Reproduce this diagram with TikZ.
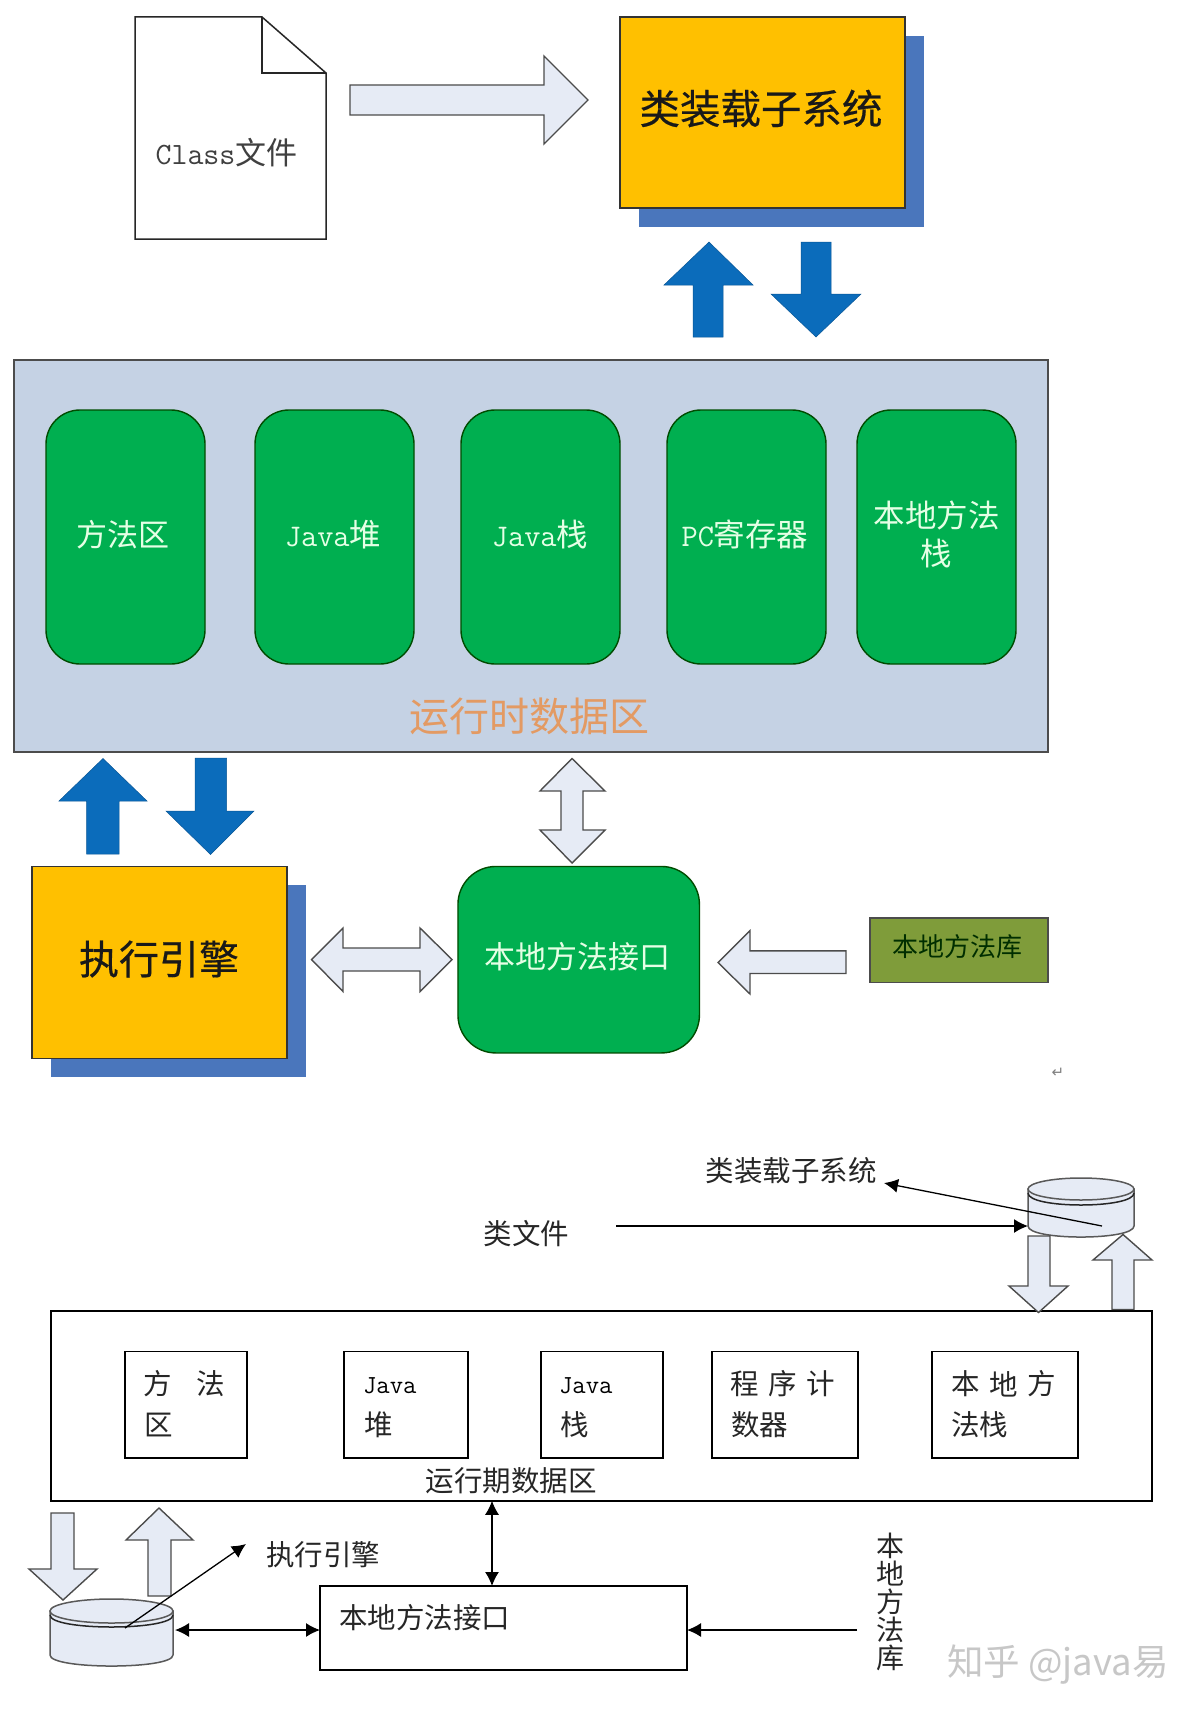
\documentclass[tikz,border=0pt]{standalone}
\usepackage{fontspec}
\setmainfont{Noto Sans CJK SC}
\newfontfamily\lmtt{Latin Modern Mono}
\newfontfamily\cjkb[FakeBold=0.5]{Noto Sans CJK SC}
\definecolor{orangeF}{HTML}{FFC000}
\definecolor{shadowB}{HTML}{4A76BC}
\definecolor{blockB}{HTML}{0B6CBB}
\definecolor{paleB}{HTML}{E6EBF5}
\definecolor{panelB}{HTML}{C5D2E4}
\definecolor{greenF}{HTML}{00AF50}
\definecolor{oliveF}{HTML}{7F9C3A}
\definecolor{dbF}{HTML}{E6EBF5}
\definecolor{rtText}{HTML}{E39A63}
\newcommand{\fs}[1]{\fontsize{#1}{#1}\selectfont}
\usetikzlibrary{arrows.meta}
\tikzset{
  every node/.style={inner sep=0pt,outer sep=0pt},
  pale/.style={draw=black!70,line width=1.4pt,fill=paleB,line join=miter},
  solidb/.style={fill=blockB,draw=blockB!80!black,line width=.5pt},
  thinline/.style={draw=black,line width=1.5pt},
  stealthy/.style={-{Latex[length=14pt,width=14pt]}},
  both/.style={{Latex[length=14pt,width=14pt]}-{Latex[length=14pt,width=14pt]}},
  green/.style={draw=black!70!green,line width=1.4pt,fill=greenF,rounded corners=34pt},
  orange/.style={draw=black!80,line width=1.8pt,fill=orangeF},
  shadow/.style={fill=shadowB},
  gtext/.style={text=green!10!white,font=\fs{31},align=center},
  box/.style={draw=black,line width=1.6pt,fill=white},
  lab/.style={font=\fs{28.5},text=black!85},
  mono/.style={font=\fs{26}\lmtt\bfseries},
  dbline/.style={draw=black!65,line width=1.5pt}
}
\begin{document}
\begin{tikzpicture}[x=1pt,y=-1pt]
\useasboundingbox[fill=white] (0,0) rectangle (1200,1718);
% document
\draw[draw=black!85,line width=1.5pt,fill=white] (135,17) -- (262,17) -- (326,73) -- (326,239) -- (135,239) -- cycle;
\draw[draw=black!85,line width=1.5pt] (262,17) -- (262,73) -- (326,73);
\node[text=black!75] (cls) at (226.5,153) {\fs{31}\lmtt Class\fs{31}\rmfamily 文件};
\draw[pale] (350,85) -- (544,85) -- (544,56) -- (588,100) -- (544,144) -- (544,115) -- (350,115) -- cycle;
% loader
\fill[shadow] (639,36) rectangle (924,227);
\node[orange,minimum width=285pt,minimum height=191pt] (loader) at (762.5,112.5) {};
\node[font=\fs{40.5}\cjkb,text=black!90] at (761,108.5) {类装载子系统};
\draw[solidb] (709,242) -- (753,285) -- (723,285) -- (723,337) -- (693,337) -- (693,285) -- (664,285) -- cycle;
\draw[solidb] (801,242) -- (831,242) -- (831,294) -- (861,294) -- (816,337) -- (771,294) -- (801,294) -- cycle;
% runtime panel
\node[draw=black!70,line width=1.6pt,fill=panelB,minimum width=1034pt,minimum height=392.5pt] (panel) at (531,556) {};
\node[green,minimum width=159pt,minimum height=254pt] (g1) at (125.5,537) {};
\node[green,minimum width=159pt,minimum height=254pt] (g2) at (334.5,537) {};
\node[green,minimum width=159pt,minimum height=254pt] (g3) at (540.5,537) {};
\node[green,minimum width=159pt,minimum height=254pt] (g4) at (746.5,537) {};
\node[green,minimum width=159pt,minimum height=254pt] (g5) at (936.5,537) {};
\node[gtext] at (123,534.5) {方法区};
\node[gtext] at (333,534.5) {\fs{31.5}\lmtt Java\rmfamily 堆};
\node[gtext] at (540,534.5) {\fs{31.5}\lmtt Java\rmfamily 栈};
\node[gtext] at (745,534.5) {\fs{31.5}\lmtt PC\rmfamily 寄存器};
\node[gtext,font=\fs{31.5}] at (936.5,515) {本地方法};
\node[gtext,font=\fs{31.5}] at (936.5,554) {栈};
\node[font=\fs{40},text=rtText] at (529,716) {运行时数据区};
% lower arrows
\draw[solidb] (103,758.5) -- (147,801) -- (119,801) -- (119,854) -- (86.5,854) -- (86.5,801) -- (59,801) -- cycle;
\draw[solidb] (195,758) -- (226.5,758) -- (226.5,811) -- (254,811) -- (210.5,854.5) -- (166,811) -- (195,811) -- cycle;
\draw[pale] (572,758.5) -- (605,791) -- (583,791) -- (583,830) -- (605,830) -- (572,863) -- (540,830) -- (561,830) -- (561,791) -- (540,791) -- cycle;
% exec
\fill[shadow] (51,885) rectangle (306,1077);
\node[orange,minimum width=255pt,minimum height=192pt] (exec) at (159.5,962.5) {};
\node[font=\fs{40}\cjkb,text=black!90] at (159,959) {执行引擎};
\node[green,rounded corners=38pt,minimum width=241.5pt,minimum height=186.5pt] (jni) at (578.7,959.7) {};
\node[gtext,font=\fs{31}] at (577,957) {本地方法接口};
\draw[pale] (311.5,959.5) -- (343,928) -- (343,948) -- (420,948) -- (420,928) -- (452,959.5) -- (420,991.5) -- (420,971) -- (343,971) -- (343,991.5) -- cycle;
\draw[pale] (718,962.5) -- (750,930.7) -- (750,950.8) -- (846,950.8) -- (846,973.5) -- (750,973.5) -- (750,994) -- cycle;
\node[draw=black!70,line width=1.6pt,fill=oliveF,minimum width=178pt,minimum height=64.5pt] (lib) at (959,950.2) {};
\node[font=\fs{26},text=black!70!green!60!black] at (957,947) {本地方法库};
\node[font=\fs{15}\fontspec{DejaVu Sans},text=black!50] at (1058,1073) {↵};
% lower diagram
\node[box,minimum width=1101pt,minimum height=189.5pt] (rt) at (601.5,1406) {};
\node[box,minimum width=122pt,minimum height=106.5pt] (b1) at (186,1404.7) {};
\node[box,minimum width=123.5pt,minimum height=106.5pt] (b2) at (406,1404.7) {};
\node[box,minimum width=122pt,minimum height=106.5pt] (b3) at (602,1404.7) {};
\node[box,minimum width=146pt,minimum height=106.5pt] (b4) at (785,1404.7) {};
\node[box,minimum width=146pt,minimum height=106.5pt] (b5) at (1005,1404.7) {};
\node[lab,anchor=west] at (143,1384) {方};
\node[lab,anchor=west] at (196,1384) {法};
\node[lab,anchor=west] at (144,1425) {区};
\node[mono,anchor=west] at (363,1386) {Java};
\node[lab,anchor=west] at (364,1425) {堆};
\node[mono,anchor=west] at (559,1386) {Java};
\node[lab,anchor=west] at (560,1425) {栈};
\node[lab,anchor=west] at (730,1384) {程};
\node[lab,anchor=west] at (768,1384) {序};
\node[lab,anchor=west] at (806,1384) {计};
\node[lab,anchor=west] at (731,1425) {数器};
\node[lab,anchor=west] at (951,1384) {本};
\node[lab,anchor=west] at (989,1384) {地};
\node[lab,anchor=west] at (1027,1384) {方};
\node[lab,anchor=west] at (951,1425) {法栈};
\node[lab] (rtl) at (511,1481) {运行期数据区};
% DB 1
\draw[dbline,fill=dbF] (1028,1189) -- (1028,1226) .. controls (1028,1240.7) and (1134,1240.7) .. (1134,1226) -- (1134,1189) -- cycle;
\draw[dbline,draw=black!85] (1028,1193) .. controls (1028,1209) and (1134,1209) .. (1134,1193);
\draw[dbline,fill=dbF] (1081,1189) ellipse[x radius=53,y radius=11];
\node[lab] (loadlabel) at (791,1171) {类装载子系统};
\node[lab] (clsf) at (526.5,1234) {类文件};
\coordinate (clsEnd) at (616,1226);
\coordinate (dbin) at (1028,1226);
\draw[thinline,stealthy] (clsEnd) -- (dbin);
\coordinate (dbout) at (1102,1226);
\coordinate (loadEnd) at (884,1183);
\draw[draw=black,line width=1.3pt,stealthy] (dbout) -- (loadEnd);
\draw[pale] (1028,1236) -- (1050,1236) -- (1050,1286) -- (1068,1286) -- (1038.5,1312.5) -- (1009,1286) -- (1028,1286) -- cycle;
\draw[pale] (1123,1234.5) -- (1152,1260) -- (1134,1260) -- (1134,1309.5) -- (1112,1309.5) -- (1112,1260) -- (1093,1260) -- cycle;
% lower left
\draw[pale] (51,1513) -- (74,1513) -- (74,1569) -- (97,1569) -- (63,1600) -- (29,1569) -- (51,1569) -- cycle;
\draw[pale] (159,1508) -- (193,1540) -- (171,1540) -- (171,1596) -- (148,1596) -- (148,1540) -- (126,1540) -- cycle;
\draw[dbline,fill=dbF] (50,1611) -- (50,1655) .. controls (50,1669.7) and (173,1669.7) .. (173,1655) -- (173,1611) -- cycle;
\draw[dbline,draw=black!85] (50,1615) .. controls (50,1631) and (173,1631) .. (173,1615);
\draw[dbline,fill=dbF] (111.5,1611) ellipse[x radius=61.5,y radius=12];
\coordinate (dbtwo) at (125,1628);
\coordinate (execEnd) at (246,1544);
\draw[draw=black,line width=1.3pt,stealthy] (dbtwo) -- (execEnd);
\node[lab] (execl) at (323,1555) {执行引擎};
\node[box,minimum width=367pt,minimum height=84pt] (nat) at (503.5,1628) {};
\node[lab] at (424.5,1618) {本地方法接口};
\draw[draw=black,line width=1.3pt,both] (rt.south -| 492,0) -- (nat.north -| 492,0);
\coordinate (dbr) at (175,1630);
\draw[draw=black,line width=1.3pt,both] (dbr) -- (nat.west |- dbr);
\coordinate (libEnd) at (857,1630);
\draw[draw=black,line width=1.3pt,stealthy] (libEnd) -- (nat.east |- libEnd);
\node[font=\fs{28},text=black!85,align=center,inner sep=0pt] (vlib) at (890,1602) {本\\地\\方\\法\\库};
\node[font=\fs{36.5},text=black!22] (wm) at (1058,1665) {知乎 @java易};
\end{tikzpicture}
\end{document}
